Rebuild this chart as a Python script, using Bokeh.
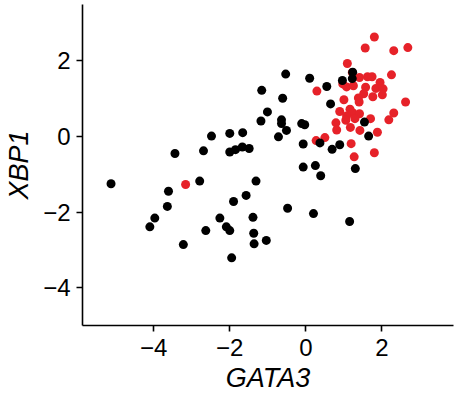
from bokeh.plotting import figure
from bokeh.models import Range1d, FixedTicker
from bokeh.embed import file_html
from bokeh.resources import INLINE

# Group 1 (black)
black_x = [-3.44, -2.69, -2.48, -2.00, -1.66, -2.00, -1.85, -1.67, -1.49, -1.18,
           -1.01, -1.16, -0.61, -0.53, -0.64, -0.64, -0.51, -0.72, -0.11, -0.03,
           -0.07, 0.10, 0.55, 0.65, 0.37, 0.69, 0.89, 0.96, 1.22, 1.23,
           1.54, 1.65, -0.07, 0.25, 0.39, 1.30, -5.12, -2.79, -3.61, -3.64,
           -3.97, -4.10, -3.22, -2.63, -2.26, -2.09, -2.00, -1.90, -1.57, -1.31,
           -1.39, -1.37, -1.36, -1.04, -1.95, -0.48, 0.20, 1.15]
black_y = [-0.45, -0.38, 0.01, 0.08, 0.10, -0.41, -0.35, -0.28, -0.32, 0.41,
           0.65, 1.22, 1.01, 1.65, 0.44, 0.34, 0.16, -0.01, 0.34, 0.31,
           -0.20, 1.54, 1.32, 0.86, -0.17, -0.34, -0.22, 1.48, 1.53, 1.70,
           0.38, 0.01, -0.81, -0.77, -1.04, -0.85, -1.25, -1.18, -1.45, -1.85,
           -2.16, -2.39, -2.86, -2.49, -2.16, -2.39, -2.49, -1.72, -1.56, -1.18,
           -2.14, -2.56, -2.84, -2.75, -3.21, -1.90, -2.04, -2.25]

# Group 2 (red)
red_x = [-3.16, 1.80, 1.56, 2.31, 2.68, 1.09, 1.22, 1.41, 1.62, 1.74,
         2.25, 0.29, 0.97, 1.07, 1.25, 1.57, 1.52, 1.95, 1.84, 2.03,
         2.01, 1.76, 1.38, 1.40, 1.00, 2.62, 0.89, 1.16, 1.23, 1.41,
         1.07, 1.05, 1.29, 0.79, 0.81, 1.17, 1.42, 1.70, 2.31, 2.18,
         1.88, 0.27, 0.50, 1.19, 1.80, 1.27]
red_y = [-1.27, 2.63, 2.34, 2.27, 2.35, 1.93, 1.69, 1.56, 1.58, 1.58,
         1.63, 1.20, 1.39, 1.31, 1.34, 1.30, 1.13, 1.43, 1.27, 1.26,
         1.10, 1.05, 1.02, 0.91, 0.97, 0.91, 0.66, 0.72, 0.63, 0.60,
         0.54, 0.43, 0.47, 0.36, 0.17, 0.24, 0.16, 0.47, 0.62, 0.44,
         0.11, -0.11, -0.03, -0.19, -0.43, -0.54]

x_ticks = [-4, -2, 0, 2]
y_ticks = [-4, -2, 0, 2]

p = figure(frame_width=371, frame_height=321,
           x_range=Range1d(-5.87, 3.88), y_range=Range1d(-5.0, 3.49),
           output_backend="svg", toolbar_location=None,
           min_border_left=82, min_border_right=10, min_border_top=4,
           min_border_bottom=66)
p.background_fill_color = None
p.border_fill_color = "white"
p.outline_line_color = None
p.grid.visible = False

p.scatter(red_x, red_y, size=9, fill_color="#e62229", line_color=None)
p.scatter(black_x, black_y, size=9, fill_color="black", line_color=None)

for ax, ticks in ((p.xaxis[0], x_ticks), (p.yaxis[0], y_ticks)):
    ax.ticker = FixedTicker(ticks=ticks)
    ax.major_label_overrides = {t: (str(t).replace("-", "\u2212")) for t in ticks}
    ax.axis_line_color = "black"
    ax.axis_line_width = 1.6
    ax.major_tick_line_width = 1.6
    ax.major_tick_out = 6
    ax.major_tick_in = 0
    ax.minor_tick_line_color = None
    ax.major_label_text_font = "Liberation Sans"
    ax.major_label_text_font_size = "24px"
    ax.major_label_text_color = "black"
    ax.axis_label_text_font = "Liberation Sans"
    ax.axis_label_text_font_size = "27px"
    ax.axis_label_text_font_style = "italic"
    ax.axis_label_text_color = "black"

p.xaxis.axis_label = "GATA3"
p.yaxis.axis_label = "XBP1"
p.xaxis.major_label_standoff = 7
p.yaxis.major_label_standoff = 6
p.xaxis.axis_label_standoff = 4
p.yaxis.axis_label_standoff = 6

open("out.html", "w").write(file_html(p, INLINE))
